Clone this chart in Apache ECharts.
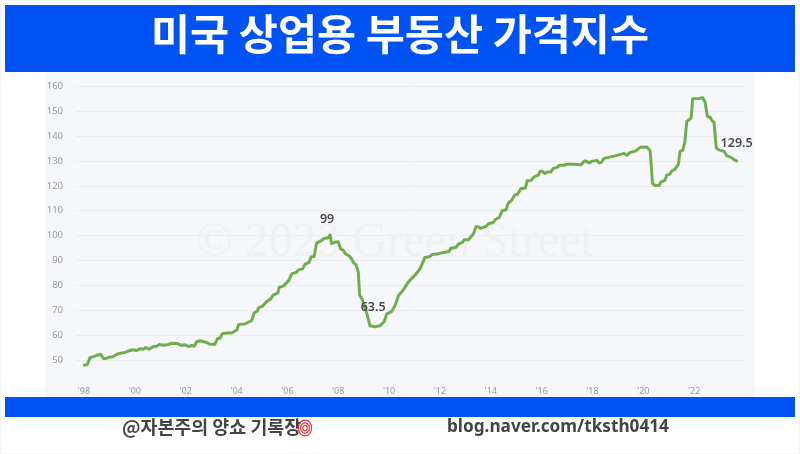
<!DOCTYPE html>
<html><head><meta charset="utf-8">
<style>html,body{margin:0;padding:0;background:#fff}#c{width:800px;height:454px}</style>
<script src="https://cdn.jsdelivr.net/npm/echarts@6/dist/echarts.min.js"></script>
</head><body><div id="c"></div>
<script>
const titleText = '미국 상업용 부동산 가격지수';
const footerLeft = '@자본주의 양쇼 기록장';
const footerRight = 'blog.naver.com/tksth0414';
const watermark = '© 2023 Green Street';
const xTicks = [1998,2000,2002,2004,2006,2008,2010,2012,2014,2016,2018,2020,2022];
const years = [
1997.97,1998.13,1998.24,1998.37,1998.5,1998.66,1998.76,1998.87,1999.0,1999.13,1999.29,1999.44,1999.61,1999.81,1999.91,
2000.07,2000.2,2000.33,2000.43,2000.56,2000.73,2000.86,2000.96,2001.12,2001.19,2001.32,2001.45,2001.65,2001.84,2001.97,
2002.1,2002.24,2002.34,2002.43,2002.56,2002.83,2002.96,2003.15,2003.25,2003.35,2003.44,2003.61,2003.81,
2004.01,2004.08,2004.33,2004.6,2004.69,2004.82,2004.86,2005.03,2005.19,2005.34,2005.45,2005.62,2005.68,2005.84,
2006.05,2006.17,2006.37,2006.43,2006.6,2006.69,2006.85,2006.93,2007.05,2007.15,2007.35,2007.44,2007.61,2007.68,2007.74,2007.87,
2008.0,2008.1,2008.2,2008.27,2008.46,2008.62,2008.7,2008.79,2008.84,2008.95,
2009.12,2009.25,2009.45,2009.64,2009.81,2009.91,2010.1,2010.23,2010.37,2010.56,2010.76,2010.82,2011.09,2011.23,2011.41,2011.61,2011.7,2011.94,
2012.14,2012.37,2012.42,2012.63,2012.73,2012.88,2012.95,2013.12,2013.32,2013.42,2013.51,2013.6,2013.81,2013.91,
2014.1,2014.17,2014.34,2014.44,2014.6,2014.69,2014.82,2014.94,2015.05,2015.18,2015.36,2015.43,2015.58,2015.72,2015.87,2015.94,
2016.03,2016.12,2016.21,2016.36,2016.46,2016.62,2016.7,2016.88,2016.96,2017.25,2017.31,2017.54,2017.68,2017.77,2017.87,2017.97,
2018.17,2018.27,2018.35,2018.46,2018.63,2018.69,2018.89,2018.95,2019.15,2019.24,2019.35,2019.48,2019.68,2019.9,
2020.14,2020.27,2020.36,2020.46,2020.62,2020.7,2020.86,2020.92,2021.05,2021.12,2021.25,2021.38,2021.45,2021.55,2021.63,2021.71,2021.88,2021.94,
2022.17,2022.34,2022.43,2022.52,2022.63,2022.69,2022.78,2022.87,2022.98,2023.18,2023.28,2023.45,2023.54,2023.71];
const index = [
47.9,48.4,51.2,51.5,52,52.5,50.8,50.8,51.3,51.5,52.5,52.9,53.2,54,54.3,
54,54.7,54.5,55.2,54.5,55.6,55.7,56.4,56.1,56.8,56.4,56.9,56.8,56,56.3,
55.6,56,55.7,57.5,57.9,57.2,56.5,56.5,58.7,59,60.7,61,61,
62.2,64.4,64.6,66,69,69.8,71.1,71.8,73.6,74.6,76.3,77,79.4,79.8,
82,84.7,85.4,86.3,86.7,88.5,89.3,91.5,91.7,97,98.1,98.9,99.2,100.4,96.8,97.4,
97.6,94.6,94.2,92.9,91.7,89,88.3,85.4,76.3,74.3,
69,63.9,63.5,63.9,65.6,68.7,69.6,71.9,76,78.3,81.5,82.3,85,87,91.3,91.7,92.5,92.8,
93.3,93.7,94.9,95.4,96.6,97.3,98.4,98.4,100.8,103.6,103.6,102.9,103.7,104.8,
105.3,106.4,107.4,109.9,110.4,113.1,114.1,116.3,116.5,118.8,119.1,122,122.1,123.7,124.3,125.8,
125.8,125,125.5,125.5,127,127.4,128.2,128.2,128.6,128.6,128.7,128.4,129.9,129.8,129.2,129.8,
130.2,129.2,129.4,131,131.4,131.9,132,132.3,132.7,133,132.2,133.4,133.9,135.5,
135.6,134,121,120.1,120.1,121.6,122.3,124.3,124.7,125.9,126.7,128.7,133.9,134.2,137.4,145.8,147.1,154.9,
155,155.3,153.5,147.8,147.5,146.2,145.5,135.1,134.4,133.8,132,131.4,130.7,129.7];
const calloutYears = [2007.68,2009.45,2023.71];
const calloutAnchors = [100.4,63.5,129.7];
const calloutTexts = ['99','63.5','129.5'];
const calloutOffsets = [[-3,-15],[-2,-19],[-1,-18]];

const chart = echarts.init(document.getElementById('c'),null,{renderer:'canvas'});
chart.setOption({
  animation:false,
  backgroundColor:'#fff',
  grid:{left:75,right:56,top:86,bottom:68.6},
  title:{text:titleText,left:'center',top:13,padding:0,
    textStyle:{color:'#fff',fontSize:42.5,fontWeight:700,fontFamily:'"Noto Sans CJK KR"'}},
  xAxis:{type:'value',min:1997.646,max:2023.96,
    axisLine:{show:false},axisTick:{show:false},splitLine:{show:false},
    axisLabel:{customValues:xTicks,margin:2,color:'#999',fontSize:9,fontFamily:'"Noto Sans"',
      formatter:v=>"'"+String(Math.round(v)).slice(2)}},
  yAxis:{type:'value',min:40,max:160,interval:10,
    axisLine:{show:false},axisTick:{show:false},
    splitLine:{show:true,showMinLine:false,lineStyle:{color:'#eaecef',width:1}},
    axisLabel:{showMinLabel:false,margin:12,color:'#999',fontSize:9.5,fontFamily:'"Noto Sans"'}},
  series:[{type:'line',showSymbol:false,smooth:false,clip:false,
    data:years.map((y,i)=>[y,index[i]]),
    lineStyle:{color:'#70ae4d',width:3,join:'round'},
    markPoint:{symbol:'circle',symbolSize:0,silent:true,
      data:calloutYears.map((y,i)=>({coord:[y,calloutAnchors[i]],
        label:{show:true,formatter:calloutTexts[i],offset:calloutOffsets[i],position:'inside',
          color:'#4a4a50',fontSize:12.5,fontWeight:600,fontFamily:'"Noto Sans"'}}))}
  }],
  graphic:[
    {type:'rect',z:-3,shape:{x:0.5,y:0.5,width:799,height:453},style:{fill:'#fff',stroke:'#f3f3f3',lineWidth:1}},
    {type:'rect',z:-2,shape:{x:45,y:72,width:710,height:326},style:{fill:'#f5f7fa'}},
    {type:'rect',z:-1,shape:{x:5,y:5,width:790,height:67},style:{fill:'#0052f2'}},
    {type:'rect',z:-1,shape:{x:5,y:397,width:790,height:20},style:{fill:'#0052f2'}},
    {type:'text',z:1,x:395,y:243,style:{text:watermark,fill:'#eff1f4',font:'48px "Liberation Serif"',textAlign:'center',textVerticalAlign:'middle'}},
    {type:'text',z:5,x:122,y:427,style:{text:footerLeft,fill:'#444',font:'700 18.4px "Noto Sans CJK KR"',textVerticalAlign:'middle'}},
    {type:'text',z:5,x:447,y:427,style:{text:footerRight,fill:'#444',font:'700 17.2px "Noto Sans"',textVerticalAlign:'middle'}},
    {type:'group',z:6,x:305,y:428,children:[2,4,6].map(r=>({type:'ellipse',z:6,shape:{cx:0,cy:0,rx:r*1.1,ry:r*1.3},style:{fill:'none',stroke:'#e8323c',lineWidth:1.2}}))}
  ]
});
</script></body></html>
